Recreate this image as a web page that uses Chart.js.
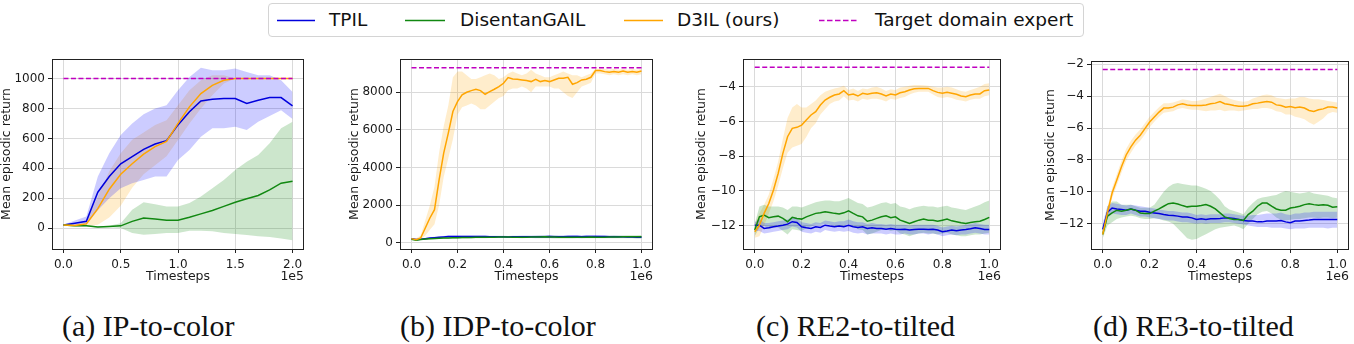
<!DOCTYPE html>
<html><head><meta charset="utf-8">
<script src="https://cdn.jsdelivr.net/npm/chart.js@4.4.1/dist/chart.umd.min.js"></script>
<style>
body{margin:0;width:1354px;height:344px;background:#fff;position:relative;overflow:hidden;font-family:"DejaVu Sans",sans-serif;}
canvas{position:absolute;}
#legend{position:absolute;left:268px;top:3px;width:816px;height:34px;border:1px solid #d4d4d4;border-radius:4px;box-sizing:border-box;}
#legend svg{position:absolute;top:0;left:0;}
#legend span{position:absolute;top:6px;font-size:18.5px;line-height:20px;color:#111;white-space:nowrap;}
.cap{position:absolute;top:312px;font-family:"Liberation Serif",serif;font-size:30px;line-height:28px;color:#111;white-space:nowrap;}
</style></head><body>
<div id="legend">
<svg width="816" height="34">
<line x1="8" y1="16.5" x2="46" y2="16.5" stroke="#0000dd" stroke-width="1.6"/>
<line x1="136" y1="16.5" x2="176" y2="16.5" stroke="#118811" stroke-width="1.6"/>
<line x1="355" y1="16.5" x2="394" y2="16.5" stroke="#ffa500" stroke-width="1.6"/>
<line x1="550" y1="16.5" x2="590" y2="16.5" stroke="#c000c0" stroke-width="1.6" stroke-dasharray="5.5,2.5"/>
</svg>
<span style="left:60px">TPIL</span>
<span style="left:191px">DisentanGAIL</span>
<span style="left:408px">D3IL (ours)</span>
<span style="left:606px">Target domain expert</span>
</div>
<canvas id="c1" width="340" height="260" style="left:0px;top:45px"></canvas>
<canvas id="c2" width="340" height="260" style="left:340px;top:45px"></canvas>
<canvas id="c3" width="340" height="260" style="left:680px;top:45px"></canvas>
<canvas id="c4" width="334" height="260" style="left:1020px;top:45px"></canvas>
<div class="cap" style="left:62px">(a) IP-to-color</div>
<div class="cap" style="left:400px">(b) IDP-to-color</div>
<div class="cap" style="left:756px">(c) RE2-to-tilted</div>
<div class="cap" style="left:1093px">(d) RE3-to-tilted</div>
<script>
// ---------- categories (timesteps) ----------
const X1 = [0,0.1,0.2,0.3,0.4,0.5,0.6,0.7,0.8,0.9,1.0,1.1,1.2,1.3,1.4,1.5,1.6,1.7,1.8,1.9,2.0];
const X2 = [0,0.02,0.04,0.06,0.08,0.1,0.12,0.14,0.16,0.18,0.2,0.22,0.24,0.26,0.28,0.3,0.32,0.34,0.36,0.38,0.4,0.42,0.44,0.46,0.48,0.5,0.52,0.54,0.56,0.58,0.6,0.62,0.64,0.66,0.68,0.7,0.72,0.74,0.76,0.78,0.8,0.82,0.84,0.86,0.88,0.9,0.92,0.94,0.96,0.98,1.0];

// ---------- tick labels ----------
const XT1 = [0,0.5,1.0,1.5,2.0];
const XT2 = [0,0.2,0.4,0.6,0.8,1.0];
const YT1 = [0,200,400,600,800,1000];
const YT2 = [0,2000,4000,6000,8000];
const YT3 = [-12,-10,-8,-6,-4];
const YT4 = [-12,-10,-8,-6,-4,-2];
const OFFSETS = ['1e5','1e6','1e6','1e6'];

// ---------- target domain expert ----------
const TARGET = [1000, 9307, -2.89, -2.33];

// ---------- (a) IP-to-color ----------
const P1_TPIL    = [20,33,45,240,345,430,478,527,562,585,690,778,850,862,867,867,833,855,873,873,818];
const P1_TPIL_hi = [22,50,78,345,500,622,700,762,800,822,922,1011,1073,1055,1055,1067,1044,1022,1022,989,911];
const P1_TPIL_lo = [18,20,22,120,200,267,300,322,345,345,455,522,611,667,667,678,656,711,749,789,729];
const P1_DG      = [20,15,15,7,11,15,45,67,60,53,53,73,95,118,145,173,196,218,255,300,313];
const P1_DG_hi   = [25,20,18,12,16,33,122,173,160,144,144,167,211,267,322,389,444,489,567,667,711];
const P1_DG_lo   = [15,10,12,2,6,0,-33,-44,-40,-33,-33,-18,-18,-22,-33,-40,-47,-55,-60,-69,-82];
const P1_D3IL    = [20,18,28,130,260,360,430,495,545,580,700,811,900,955,989,1000,1000,1000,1000,1000,1000];
const P1_D3IL_hi = [24,22,50,210,380,500,590,640,690,722,822,922,989,1022,1022,1000,1000,1000,1000,1000,1000];
const P1_D3IL_lo = [16,14,10,22,70,150,270,360,420,480,589,700,800,889,967,1000,1000,1000,1000,1000,1000];

// ---------- (b) IDP-to-color ----------
const P2_TPIL    = [220,180,200,230,260,280,300,320,340,350,345,340,345,350,350,345,340,335,330,330,325,320,325,330,335,330,330,325,330,335,340,335,330,335,340,345,340,335,340,345,350,345,340,335,330,330,325,320,315,310,300];
const P2_TPIL_hi = [240,200,230,270,300,330,350,370,390,400,395,390,395,400,400,395,390,385,380,385,380,375,380,385,390,390,395,395,400,410,415,410,400,405,415,420,420,415,420,425,420,410,400,395,390,385,380,375,370,365,350];
const P2_TPIL_lo = [200,160,170,190,220,230,250,270,290,300,295,290,295,300,300,295,290,285,280,275,270,265,270,275,280,270,265,255,260,260,265,260,260,265,265,270,260,255,260,265,280,280,280,275,270,275,270,265,260,255,250];
const P2_DG      = [200,150,180,210,230,240,250,260,270,275,280,285,290,295,300,300,305,310,310,315,320,315,310,310,305,310,315,320,320,325,320,315,310,305,300,300,305,310,310,315,310,305,310,315,320,320,325,330,330,325,330];
const P2_DG_hi   = [220,170,200,240,260,280,290,300,310,320,330,335,340,345,350,350,355,360,360,365,370,365,360,360,355,360,370,380,390,400,395,390,380,370,360,360,365,370,370,375,370,365,370,380,390,395,400,410,415,410,420];
const P2_DG_lo   = [180,130,160,180,200,200,210,220,230,230,230,235,240,245,250,250,255,260,260,265,270,265,260,260,255,260,260,260,250,250,245,240,240,240,240,240,245,250,250,255,250,245,250,250,250,245,250,250,245,240,240];
const P2_D3IL    = [230,177,265,795,1325,1766,3355,4768,5828,6976,7505,7859,8000,8088,8159,8088,7894,8035,8159,8300,8477,8777,8706,8689,8653,8618,8565,8689,8565,8618,8565,8653,8742,8742,8795,8424,8512,8653,8689,8795,9148,9148,9095,9059,9095,9059,9130,9059,9095,9059,9130];
const P2_D3IL_hi = [250,250,400,1200,2000,3000,4800,6200,7300,8800,9100,9100,8900,8700,8700,8800,8900,9000,8900,8700,8800,9000,9100,9000,8900,9000,9200,9000,8900,8800,8800,8900,9000,9100,9000,8900,8900,8800,8900,9000,9250,9250,9250,9200,9250,9200,9250,9200,9250,9200,9250];
const P2_D3IL_lo = [210,150,200,400,700,1000,2000,3500,4500,5500,6800,7200,7300,7400,7300,7100,7100,7300,7500,7700,7800,8100,8200,8200,8300,8200,8000,8300,8300,8300,8300,8200,8200,8000,7800,7700,8000,8300,8400,8500,9000,9000,8950,8900,8950,8900,8950,8900,8950,8900,8950];

// ---------- (c) RE2-to-tilted ----------
const P3_TPIL    = [-11.97,-11.97,-12.16,-12.12,-12.06,-12.02,-11.97,-11.91,-11.77,-11.81,-12.06,-12.12,-12.16,-12.06,-12.10,-11.97,-12.02,-12.06,-12.02,-12.06,-11.97,-12.06,-12.10,-12.06,-12.16,-12.12,-12.16,-12.16,-12.20,-12.16,-12.20,-12.22,-12.20,-12.25,-12.22,-12.20,-12.20,-12.22,-12.20,-12.25,-12.35,-12.31,-12.25,-12.29,-12.25,-12.22,-12.18,-12.12,-12.16,-12.22,-12.22];
const P3_TPIL_hi = [-11.8,-11.6,-11.85,-11.85,-11.8,-11.75,-11.7,-11.65,-11.5,-11.55,-11.8,-11.85,-11.9,-11.8,-11.85,-11.7,-11.75,-11.8,-11.75,-11.75,-11.65,-11.75,-11.8,-11.8,-11.9,-11.85,-11.9,-11.9,-11.95,-11.9,-11.95,-11.95,-11.95,-12.0,-11.95,-11.95,-11.95,-11.95,-11.95,-12.0,-12.1,-12.05,-12.0,-12.05,-12.0,-11.95,-11.9,-11.85,-11.9,-11.95,-11.95];
const P3_TPIL_lo = [-12.3,-12.3,-12.45,-12.4,-12.35,-12.3,-12.25,-12.2,-12.05,-12.1,-12.35,-12.4,-12.45,-12.35,-12.4,-12.25,-12.3,-12.35,-12.3,-12.35,-12.3,-12.4,-12.45,-12.4,-12.5,-12.45,-12.45,-12.45,-12.5,-12.45,-12.5,-12.5,-12.45,-12.5,-12.5,-12.45,-12.45,-12.5,-12.45,-12.5,-12.6,-12.55,-12.5,-12.55,-12.5,-12.5,-12.45,-12.4,-12.45,-12.5,-12.5];
const P3_DG      = [-12.25,-11.49,-11.39,-11.54,-11.49,-11.45,-11.58,-11.77,-11.52,-11.58,-11.62,-11.49,-11.39,-11.29,-11.26,-11.20,-11.24,-11.29,-11.33,-11.26,-11.14,-11.29,-11.43,-11.49,-11.74,-11.68,-11.58,-11.49,-11.43,-11.54,-11.49,-11.68,-11.77,-11.87,-11.77,-11.68,-11.62,-11.68,-11.68,-11.74,-11.68,-11.62,-11.72,-11.77,-11.83,-11.87,-11.81,-11.77,-11.74,-11.64,-11.52];
const P3_DG_hi   = [-11.9,-10.9,-10.8,-10.9,-10.9,-10.9,-10.95,-11.1,-10.9,-10.9,-10.95,-10.85,-10.75,-10.65,-10.6,-10.55,-10.55,-10.6,-10.6,-10.5,-10.4,-10.55,-10.7,-10.75,-10.95,-10.9,-10.8,-10.7,-10.65,-10.75,-10.7,-10.9,-10.95,-11.05,-10.95,-10.9,-10.85,-10.9,-10.9,-10.95,-10.9,-10.85,-10.95,-11.0,-11.05,-11.1,-11.0,-10.9,-10.8,-10.65,-10.55];
const P3_DG_lo   = [-12.6,-12.1,-12.0,-12.2,-12.1,-12.1,-12.3,-12.5,-12.2,-12.25,-12.3,-12.15,-12.05,-11.95,-11.95,-11.9,-11.95,-12.0,-12.05,-12.0,-11.9,-12.05,-12.2,-12.25,-12.5,-12.45,-12.35,-12.25,-12.2,-12.3,-12.25,-12.45,-12.5,-12.6,-12.5,-12.45,-12.4,-12.45,-12.45,-12.5,-12.45,-12.4,-12.5,-12.55,-12.6,-12.6,-12.55,-12.5,-12.5,-12.45,-12.4];
const P3_D3IL    = [-12.35,-11.97,-11.29,-10.72,-9.95,-8.99,-7.84,-6.88,-6.40,-6.34,-6.21,-5.92,-5.63,-5.44,-5.06,-4.77,-4.61,-4.48,-4.42,-4.23,-4.48,-4.42,-4.54,-4.38,-4.44,-4.38,-4.35,-4.42,-4.54,-4.42,-4.48,-4.35,-4.29,-4.19,-4.12,-4.10,-4.10,-4.10,-4.23,-4.33,-4.38,-4.33,-4.38,-4.44,-4.54,-4.58,-4.48,-4.42,-4.42,-4.23,-4.19];
const P3_D3IL_hi = [-11.9,-11.3,-10.8,-10.2,-9.3,-8.3,-7.0,-5.8,-5.2,-5.0,-5.2,-5.2,-5.0,-4.8,-4.5,-4.3,-4.2,-4.1,-4.05,-3.95,-4.2,-4.1,-4.25,-4.1,-4.15,-4.05,-4.0,-4.1,-4.25,-4.15,-4.2,-4.05,-4.0,-3.95,-3.9,-3.9,-3.92,-3.95,-4.0,-4.05,-4.05,-4.0,-4.05,-4.15,-4.25,-4.3,-4.2,-4.1,-4.0,-3.85,-3.8];
const P3_D3IL_lo = [-12.7,-12.6,-12.0,-11.3,-10.6,-9.7,-8.7,-7.8,-7.5,-7.4,-7.3,-6.9,-6.4,-6.1,-5.6,-5.3,-5.0,-4.85,-4.8,-4.55,-4.8,-4.75,-4.85,-4.7,-4.75,-4.7,-4.7,-4.75,-4.85,-4.7,-4.75,-4.65,-4.6,-4.45,-4.35,-4.3,-4.3,-4.3,-4.45,-4.6,-4.65,-4.6,-4.65,-4.75,-4.8,-4.85,-4.75,-4.7,-4.7,-4.55,-4.5];

// ---------- (d) RE3-to-tilted ----------
const P4_TPIL    = [-12.35,-11.28,-11.01,-11.07,-11.11,-11.15,-11.07,-11.15,-11.21,-11.21,-11.28,-11.32,-11.36,-11.42,-11.46,-11.48,-11.52,-11.57,-11.57,-11.63,-11.73,-11.69,-11.73,-11.69,-11.69,-11.67,-11.63,-11.63,-11.67,-11.73,-11.79,-11.83,-11.83,-11.88,-11.88,-11.83,-11.83,-11.83,-11.79,-11.88,-11.94,-11.83,-11.83,-11.79,-11.77,-11.73,-11.73,-11.73,-11.73,-11.73,-11.73];
const P4_TPIL_hi = [-12.0,-10.9,-10.7,-10.75,-10.8,-10.85,-10.8,-10.85,-10.9,-10.95,-11.0,-11.05,-11.1,-11.15,-11.2,-11.2,-11.25,-11.3,-11.3,-11.35,-11.45,-11.4,-11.45,-11.4,-11.4,-11.4,-11.35,-11.35,-11.4,-11.45,-11.5,-11.5,-11.45,-11.45,-11.4,-11.35,-11.35,-11.35,-11.3,-11.4,-11.45,-11.35,-11.35,-11.3,-11.3,-11.25,-11.25,-11.25,-11.25,-11.25,-11.25];
const P4_TPIL_lo = [-12.7,-11.65,-11.35,-11.4,-11.45,-11.45,-11.35,-11.45,-11.55,-11.55,-11.6,-11.65,-11.7,-11.75,-11.8,-11.8,-11.85,-11.9,-11.9,-11.95,-12.0,-11.95,-12.0,-11.95,-11.95,-11.95,-11.9,-11.9,-11.95,-12.0,-12.05,-12.1,-12.15,-12.2,-12.2,-12.2,-12.25,-12.25,-12.25,-12.3,-12.35,-12.3,-12.3,-12.3,-12.25,-12.25,-12.25,-12.25,-12.3,-12.25,-12.25];
const P4_DG      = [-12.66,-11.52,-11.32,-11.15,-11.21,-11.15,-11.07,-11.15,-11.32,-11.36,-11.36,-11.21,-11.07,-10.90,-10.74,-10.70,-10.76,-10.86,-10.94,-10.90,-10.90,-10.86,-10.80,-10.90,-11.07,-11.32,-11.57,-11.67,-11.73,-11.73,-11.79,-11.42,-11.21,-10.90,-10.70,-10.70,-10.90,-11.07,-11.15,-11.15,-11.01,-10.96,-10.90,-10.80,-10.74,-10.80,-10.84,-10.80,-10.84,-10.96,-10.94];
const P4_DG_hi   = [-12.3,-10.9,-10.6,-10.6,-10.8,-10.8,-10.8,-10.9,-11.0,-11.0,-11.0,-10.8,-10.4,-10.0,-9.7,-9.5,-9.45,-9.5,-9.55,-9.6,-9.6,-9.7,-9.8,-9.95,-10.2,-10.5,-10.9,-11.1,-11.2,-11.3,-11.4,-11.0,-10.7,-10.45,-10.35,-10.3,-10.25,-10.2,-10.05,-9.95,-10.0,-10.05,-10.1,-10.05,-10.0,-10.1,-10.15,-10.2,-10.25,-10.35,-10.4];
const P4_DG_lo   = [-12.9,-12.1,-11.9,-11.7,-11.6,-11.55,-11.5,-11.55,-11.65,-11.7,-11.7,-11.65,-11.7,-11.8,-11.85,-12.0,-12.3,-12.6,-12.9,-13.0,-12.95,-12.8,-12.65,-12.5,-12.35,-12.25,-12.2,-12.15,-12.1,-12.2,-12.35,-12.0,-11.7,-11.4,-11.25,-11.2,-11.35,-11.6,-11.75,-11.8,-11.75,-11.7,-11.7,-11.65,-11.6,-11.6,-11.65,-11.6,-11.6,-11.65,-11.6];
const P4_D3IL    = [-12.66,-11.32,-10.07,-9.25,-8.42,-7.69,-7.18,-6.76,-6.45,-6.04,-5.62,-5.31,-5.00,-4.75,-4.75,-4.69,-4.55,-4.48,-4.55,-4.59,-4.59,-4.59,-4.55,-4.48,-4.44,-4.34,-4.48,-4.53,-4.59,-4.63,-4.63,-4.59,-4.48,-4.44,-4.38,-4.34,-4.38,-4.55,-4.59,-4.69,-4.65,-4.73,-4.69,-4.75,-4.90,-4.96,-4.86,-4.80,-4.69,-4.69,-4.75];
const P4_D3IL_hi = [-12.3,-11.0,-9.75,-8.9,-8.05,-7.3,-6.8,-6.4,-6.1,-5.7,-5.3,-5.0,-4.7,-4.45,-4.45,-4.4,-4.3,-4.2,-4.25,-4.3,-4.3,-4.25,-4.15,-4.05,-3.95,-3.85,-4.0,-4.15,-4.25,-4.3,-4.35,-4.3,-4.15,-4.05,-3.95,-3.9,-3.95,-4.1,-4.15,-4.2,-4.15,-4.15,-4.05,-4.05,-4.15,-4.2,-4.2,-4.25,-4.3,-4.35,-4.4];
const P4_D3IL_lo = [-12.9,-11.6,-10.4,-9.6,-8.8,-8.05,-7.55,-7.1,-6.8,-6.4,-5.95,-5.6,-5.3,-5.05,-5.0,-4.95,-4.8,-4.75,-4.8,-4.85,-4.85,-4.9,-4.95,-4.9,-4.9,-4.85,-4.95,-4.9,-4.9,-4.95,-4.9,-4.85,-4.8,-4.8,-4.75,-4.75,-4.8,-4.95,-5.0,-5.15,-5.15,-5.3,-5.35,-5.45,-5.65,-5.8,-5.6,-5.4,-5.1,-5.0,-5.05];

// ---------- styling ----------
const C_TPIL = '#0000dd', C_DG = '#118811', C_D3IL = '#ffa500', C_T = '#c000c0';
const F_TPIL = 'rgba(0,0,255,0.2)', F_DG = 'rgba(0,128,0,0.2)', F_D3IL = 'rgba(255,165,0,0.2)';

function pts(X, Y){ return X.map((x,i)=>({x:x, y:Y[i]})); }
function line(X, Y, color, order){
  return {data: pts(X,Y), borderColor: color, borderWidth: 1.5, pointRadius: 0, fill: false, tension: 0, order: order};
}
function band(X, hi, lo, color, order){
  return [
    {data: pts(X,hi), borderColor:'rgba(0,0,0,0)', borderWidth:0, pointRadius:0, fill:'+1', backgroundColor: color, order: order},
    {data: pts(X,lo), borderColor:'rgba(0,0,0,0)', borderWidth:0, pointRadius:0, fill:false, order: order+1}
  ];
}
function fmtY(v){ return v < 0 ? '\u2212' + Math.abs(v) : String(v); }

const framePlugin = {
  id: 'frame',
  afterDraw(chart, args, o){
    const ctx = chart.ctx, a = chart.chartArea;
    ctx.save();
    ctx.strokeStyle = '#222'; ctx.lineWidth = 1;
    ctx.strokeRect(Math.round(a.left)+0.5, Math.round(a.top)+0.5, Math.round(a.right-a.left)-1, Math.round(a.bottom-a.top));
    ctx.fillStyle = '#1a1a1a';
    ctx.font = '12.5px "DejaVu Sans"';
    ctx.textAlign = 'center'; ctx.textBaseline = 'middle';
    ctx.fillText('Timesteps', (a.left+a.right)/2, o.xTitleY);
    ctx.textAlign = 'right';
    ctx.fillText(o.offset, a.right, o.xTitleY);
    ctx.translate(o.yTitleX, (a.top+a.bottom)/2);
    ctx.rotate(-Math.PI/2);
    ctx.textAlign = 'center';
    ctx.fillText('Mean episodic return', 0, 0);
    ctx.restore();
  }
};

function makeChart(id, cfg){
  const tickFont = {family: 'DejaVu Sans', size: 12};
  new Chart(document.getElementById(id), {
    type: 'line',
    data: {datasets: cfg.datasets},
    plugins: [framePlugin],
    options: {
      responsive: false, animation: false, devicePixelRatio: 1,
      layout: {padding: {top: cfg.padTop, right: cfg.padRight, left: 0, bottom: 0}},
      plugins: {legend: {display: false}, tooltip: {enabled: false},
                frame: {xTitleY: 231.5, yTitleX: cfg.yTitleX, offset: cfg.offset}},
      scales: {
        x: {type: 'linear', min: cfg.xmin, max: cfg.xmax,
            afterBuildTicks: s => { s.ticks = cfg.xt.map(v => ({value: v})); },
            afterFit: s => { s.height = 56; },
            ticks: {font: tickFont, color: '#1a1a1a', padding: 5, maxRotation: 0, autoSkip: false,
                    callback: v => Number(v).toFixed(1)},
            grid: {color: '#dadada', lineWidth: 1, tickColor: '#222', tickLength: 4},
            border: {display: false}},
        y: {type: 'linear', min: cfg.ymin, max: cfg.ymax,
            afterBuildTicks: s => { s.ticks = cfg.yt.map(v => ({value: v})); },
            afterFit: s => { s.width = cfg.yWidth; },
            ticks: {font: tickFont, color: '#1a1a1a', padding: 3, autoSkip: false, callback: v => fmtY(v)},
            grid: {color: '#dadada', lineWidth: 1, tickColor: '#222', tickLength: 4},
            border: {display: false}}
      }
    }
  });
}

function panelSets(X, tp, tph, tpl, dg, dgh, dgl, d3, d3h, d3l, target, xmax){
  return [
    {data: [{x:0,y:target},{x:xmax,y:target}], borderColor: C_T, borderWidth: 1.5, borderDash: [5,2.5], pointRadius: 0, fill: false, order: 0},
    line(X, d3, C_D3IL, 1),
    line(X, dg, C_DG, 2),
    line(X, tp, C_TPIL, 3),
    ...band(X, tph, tpl, F_TPIL, 10),
    ...band(X, dgh, dgl, F_DG, 12),
    ...band(X, d3h, d3l, F_D3IL, 14)
  ];
}

makeChart('c1', {
  datasets: panelSets(X1, P1_TPIL, P1_TPIL_hi, P1_TPIL_lo, P1_DG, P1_DG_hi, P1_DG_lo, P1_D3IL, P1_D3IL_hi, P1_D3IL_lo, TARGET[0], 2.0),
  xmin: -0.1, xmax: 2.1, xt: XT1, ymin: -140, ymax: 1131, yt: YT1,
  padTop: 14, padRight: 36, yWidth: 52, yTitleX: 7, offset: OFFSETS[0]
});
makeChart('c2', {
  datasets: panelSets(X2, P2_TPIL, P2_TPIL_hi, P2_TPIL_lo, P2_DG, P2_DG_hi, P2_DG_lo, P2_D3IL, P2_D3IL_hi, P2_D3IL_lo, TARGET[1], 1.0),
  xmin: -0.05, xmax: 1.05, xt: XT2, ymin: -320, ymax: 9765, yt: YT2,
  padTop: 14, padRight: 27, yWidth: 60, yTitleX: 15, offset: OFFSETS[1]
});
makeChart('c3', {
  datasets: panelSets(X2, P3_TPIL, P3_TPIL_hi, P3_TPIL_lo, P3_DG, P3_DG_hi, P3_DG_lo, P3_D3IL, P3_D3IL_hi, P3_D3IL_lo, TARGET[2], 1.0),
  xmin: -0.05, xmax: 1.05, xt: XT2, ymin: -13.34, ymax: -2.41, yt: YT3,
  padTop: 14, padRight: 19, yWidth: 63, yTitleX: 22, offset: OFFSETS[2]
});
makeChart('c4', {
  datasets: panelSets(X2, P4_TPIL, P4_TPIL_hi, P4_TPIL_lo, P4_DG, P4_DG_hi, P4_DG_lo, P4_D3IL, P4_D3IL_hi, P4_D3IL_lo, TARGET[3], 1.0),
  xmin: -0.05, xmax: 1.05, xt: XT2, ymin: -13.58, ymax: -1.8, yt: YT4,
  padTop: 16, padRight: 5, yWidth: 71, yTitleX: 31, offset: OFFSETS[3]
});
</script>
</body></html>
